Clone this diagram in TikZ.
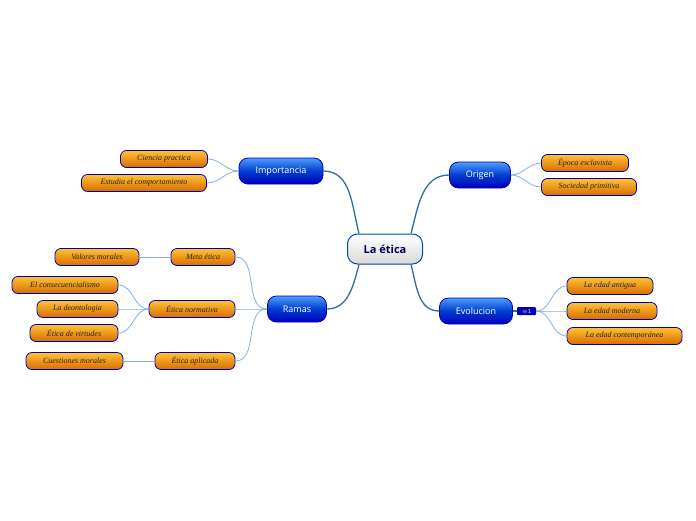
\documentclass[tikz,border=0pt]{standalone}
\usepackage{fontspec}
\setmainfont{Liberation Serif}
\newfontfamily\branchfont{Open Sans}
\begin{document}
\begin{tikzpicture}[x=1pt,y=-1pt,
  centre/.style={rounded corners=10pt,draw=blue!60!cyan!70!black,line width=1pt,top color=white,bottom color=gray!30,minimum width=75pt,minimum height=30pt,font=\branchfont\bfseries\fontsize{11}{13}\selectfont,text=blue!30!black,inner sep=2pt},
  branch/.style={rounded corners=9pt,draw=blue!70!black,line width=0.8pt,top color=blue!55!cyan!70,bottom color=blue!75!black,middle color=blue!70!cyan!80!black,minimum height=26pt,font=\branchfont\fontsize{9}{11}\selectfont,text=white,inner sep=2pt},
  leaf/.style={rounded corners=6pt,draw=blue!70!black,line width=0.8pt,top color=orange!60!yellow!80,bottom color=orange!85!black,minimum height=17pt,font=\itshape\fontsize{8}{10}\selectfont,text=black!85,inner sep=1pt},
  conn/.style={draw=cyan!50!blue!80!black,line width=1.3pt},
  lconn/.style={draw=cyan!60!blue!50,line width=0.8pt}]
\useasboundingbox[fill=white] (0,0) rectangle (696,520);
\node[centre] (c) at (385,249) {La ética};
\node[branch,minimum width=84pt] (imp) at (281,171) {Importancia};
\node[branch,minimum width=61pt] (ori) at (480,175) {Origen};
\node[branch,minimum width=59pt] (ram) at (297,309) {Ramas};
\node[branch,minimum width=73pt] (evo) at (476,311) {Evolucion};
\node[rounded corners=1pt,fill=blue!70!black,text=white,font=\sffamily\fontsize{6}{6}\selectfont,inner sep=1pt,minimum width=19pt,minimum height=8pt] (ico) at (526.5,311) {$\equiv$1};
\node[leaf,minimum width=87pt] (l1) at (164,159) {Ciencia practica};
\node[leaf,minimum width=125pt] (l2) at (144,183) {Estudia el comportamiento};
\node[leaf,minimum width=87pt] (o1) at (585,163) {Época esclavista};
\node[leaf,minimum width=95pt] (o2) at (589,187) {Sociedad primitiva};
\node[leaf,minimum width=86pt] (e1) at (610,286) {La edad antigua};
\node[leaf,minimum width=90pt] (e2) at (612,311) {La edad moderna};
\node[leaf,minimum width=115pt] (e3) at (624.5,336) {La edad contemporánea};
\node[leaf,minimum width=64pt] (r1) at (203,257) {Meta ética};
\node[leaf,minimum width=84pt] (r1a) at (97,257) {Valores morales};
\node[leaf,minimum width=86pt] (r2) at (192,309) {Ética normativa};
\node[leaf,minimum width=106pt] (r2a) at (65,285) {El consecuencialismo};
\node[leaf,minimum width=81pt] (r2b) at (77.5,309) {La deontologia};
\node[leaf,minimum width=88pt] (r2c) at (74,333) {Ética de virtudes};
\node[leaf,minimum width=80pt] (r3) at (195,361) {Ética aplicada};
\node[leaf,minimum width=97pt] (r3a) at (74.5,361) {Cuestiones morales};
% main connectors
\draw[conn] (c.north west) ++(12,0) to[out=105,in=0] (imp.east);
\draw[conn] (c.north east) ++(-12,0) to[out=75,in=180] (ori.west);
\draw[conn] (c.south west) ++(12,0) to[out=-105,in=0] (ram.east);
\draw[conn] (c.south east) ++(-12,0) to[out=-75,in=180] (evo.west);
\draw[conn] (evo.east) -- (ico.west);
% leaf connectors
\foreach \a in {l1,l2} \draw[lconn] (imp.west) to[out=180,in=0] (\a.east);
\foreach \a in {o1,o2} \draw[lconn] (ori.east) to[out=0,in=180] (\a.west);
\foreach \a in {e1,e2,e3} \draw[lconn] (ico.east) to[out=0,in=180] (\a.west);
\foreach \a in {r1,r2,r3} \draw[lconn] (ram.west) to[out=180,in=0] (\a.east);
\draw[lconn] (r1.west) -- (r1a.east);
\draw[lconn] (r3.west) -- (r3a.east);
\foreach \a in {r2a,r2b,r2c} \draw[lconn] (r2.west) to[out=180,in=0] (\a.east);
\end{tikzpicture}
\end{document}
